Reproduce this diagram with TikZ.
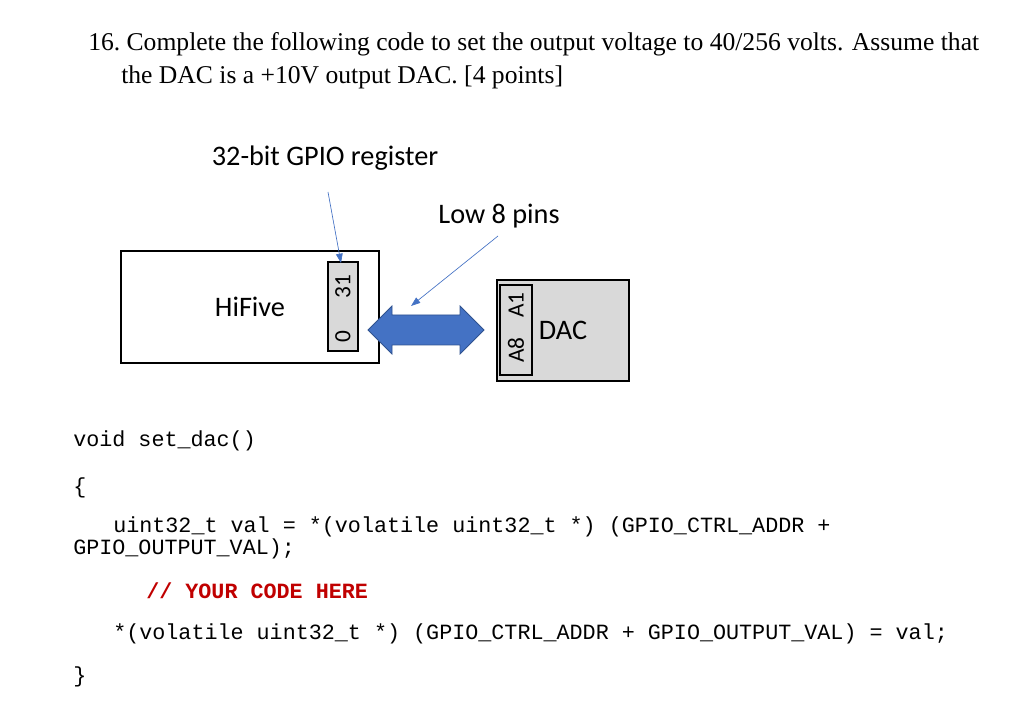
\documentclass[tikz,border=0pt]{standalone}
\usepackage{fontspec}
\setmainfont{Liberation Serif}
\newfontfamily\lbl{Carlito}
\newfontfamily\code{Liberation Mono}
\usetikzlibrary{shapes.arrows,arrows.meta}
\definecolor{ablue}{HTML}{4472C4}
\definecolor{aedge}{HTML}{2F528F}
\definecolor{box}{HTML}{D9D9D9}
\definecolor{dred}{HTML}{C00000}
\begin{document}
\begin{tikzpicture}[x=0.75pt,y=-0.75pt,
  title/.style={anchor=west,inner sep=0,font=\fontsize{19.2}{21}\selectfont},
  lab/.style={inner sep=0,font=\lbl\fontsize{21.2}{23}\selectfont},
  pin/.style={inner sep=0,rotate=90,font=\lbl\fontsize{17.5}{19}\selectfont},
  cd/.style={anchor=west,inner sep=0,font=\code\fontsize{16.3}{18}\selectfont},
  pointer/.style={ablue,line width=0.5pt,-{Triangle[length=7pt,width=5pt]}}]
\useasboundingbox (0,0) rectangle (1030,712);
\node[title] (t1) at (88,44) {16.\ Complete the following code to set the output voltage to 40/256 volts. Assume that};
\node[title] (t2) at (121,77) {the DAC is a +10V output DAC. [4 points]};
\node[lab] (gl) at (325,158) {32-bit GPIO register};
\node[lab] (ll) at (499,216) {Low 8 pins};
\draw[line width=0.8pt] (121,251) rectangle (379,363);
\node[lab] (hf) at (250,307) {HiFive};
\draw[fill=box,line width=0.8pt] (328,262) rectangle (358,351);
\node[pin] (p31) at (343,287) {31};
\node[pin] (p0) at (343,337) {0};
\draw[fill=box,line width=0.8pt] (497,280) rectangle (629,381);
\draw[fill=box,line width=0.8pt] (500,285) rectangle (532,375);
\node[pin] (a1) at (516,305) {A1};
\node[pin] (a8) at (516,350) {A8};
\node[lab] (dac) at (563,330) {DAC};
\draw[fill=ablue,draw=aedge,line width=0.6pt] (368,330) -- (392,306) -- (392,315) -- (460,315) -- (460,306) -- (484,330) -- (460,354) -- (460,345) -- (392,345) -- (392,354) -- cycle;
\coordinate (g0) at (328,192);
\coordinate (g1) at (341,263);
\coordinate (l0) at (498,236);
\coordinate (l1) at (411,306);
\draw[pointer] (g0) -- (g1);
\draw[pointer] (l0) -- (l1);
\node[cd] (c1) at (73,441) {void set\_dac()};
\node[cd] (c2) at (73,488) {\{};
\node[cd] (c3) at (113,527) {uint32\_t val = *(volatile uint32\_t *) (GPIO\_CTRL\_ADDR +};
\node[cd] (c4) at (73,549) {GPIO\_OUTPUT\_VAL);};
\node[cd,text=dred,font=\code\bfseries\fontsize{16.3}{18}\selectfont] (c5) at (146,591) {// YOUR CODE HERE};
\node[cd] (c6) at (113,634) {*(volatile uint32\_t *) (GPIO\_CTRL\_ADDR + GPIO\_OUTPUT\_VAL) = val;};
\node[cd] (c7) at (73,677) {\}};
\end{tikzpicture}
\end{document}
